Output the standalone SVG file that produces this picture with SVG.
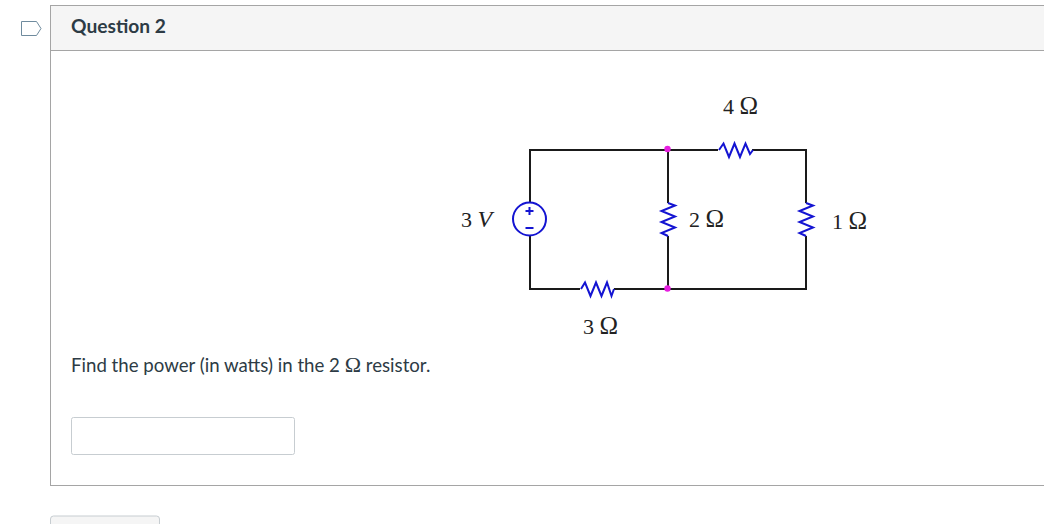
<svg xmlns="http://www.w3.org/2000/svg" width="1044" height="524" viewBox="0 0 1044 524">
<style>
.ui{font-family:Lato,"Liberation Sans",sans-serif;fill:#2d3b45}
.lab{font-family:"Liberation Serif",serif;font-size:22px;fill:#222}
.om{font-size:25px}
.wire{fill:none;stroke:#1a1a1a;stroke-width:2}
.res{fill:none;stroke:#1414d2;stroke-width:2}
.dot{fill:#e61ee0}
</style>
<rect width="1044" height="524" fill="#fff"/>
<g id="page">
<path d="M21.500 21.500H36.500L41 28.500L36.500 35.500H21.500Z" fill="#fff" stroke="#6f8b9e" stroke-width="1"/>
<rect x="50.500" y="5.500" width="1000" height="480" fill="#fff" stroke="#a5a5a5"/>
<rect x="50.500" y="5.500" width="1000" height="45" fill="#f5f5f5" stroke="#a5a5a5"/>
<text class="ui" x="71" y="33" font-size="19.200" font-weight="700">Question 2</text>
<text class="ui" x="71" y="372" font-size="18.650">Find the power (in watts) in the 2 <tspan font-family="'Liberation Serif',serif" font-size="22">Ω</tspan> resistor.</text>
<rect x="71.500" y="417.500" width="223" height="37" rx="2" fill="#fff" stroke="#c7cdd1"/>
<path d="M50.500 524V519a3 3 0 0 1 3-3H156.500a3 3 0 0 1 3 3V524" fill="#f5f5f5" stroke="#c7cdd1"/>
</g>
<g id="connectors">
<path class="wire" d="M530 203V150H718M752 150H806V203M806 236V289H614M580 289H530V236"/>
<path class="wire" d="M668 150V203M668 236V289"/>
</g>
<g id="source">
<circle cx="529.500" cy="219" r="16.500" fill="#fff" stroke="#1414d2" stroke-width="2"/>
<path class="res" d="M525.500 211H533.500M529.500 207V215M525.500 228H533.500"/>
<text class="lab" x="461" y="227">3 <tspan font-style="italic" font-size="24">V</tspan></text>
</g>
<g id="r4">
<path class="res" d="M719 150L723.500 143.500L729 157L734.500 143.500L740 157L745.500 143.500L750 154L753 150"/>
<text class="lab" x="723" y="114">4 <tspan class="om">Ω</tspan></text>
</g>
<g id="r3">
<path class="res" d="M581 289L585 282.500L590.500 296L596 282.500L601.500 296L607 282.500L611.500 296L614 289"/>
<text class="lab" x="583" y="334">3 <tspan class="om">Ω</tspan></text>
</g>
<g id="r2">
<path class="res" d="M668 203L675 205.500L661.500 211L675 216.500L661.500 222L675 227.500L661.500 233L668 236"/>
<text class="lab" x="689" y="227">2 <tspan class="om">Ω</tspan></text>
</g>
<g id="r1">
<path class="res" d="M806 203L813 205.500L799.500 211L813 216.500L799.500 222L813 227.500L799.500 233L806 236"/>
<text class="lab" x="832" y="229">1 <tspan class="om">Ω</tspan></text>
</g>
<g id="junctions">
<circle class="dot" cx="667.500" cy="149" r="3.200"/>
<circle class="dot" cx="667.500" cy="288.500" r="3.200"/>
</g>
</svg>
